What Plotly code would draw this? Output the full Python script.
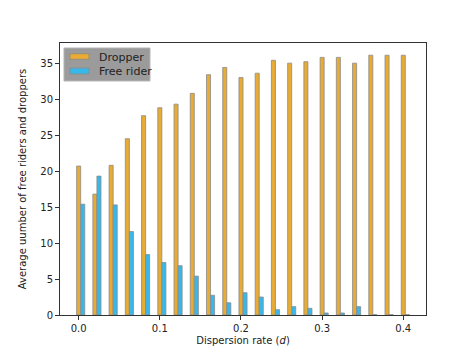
import plotly.graph_objects as go

dispersion = [0.00, 0.02, 0.04, 0.06, 0.08, 0.10, 0.12, 0.14, 0.16, 0.18, 0.20,
              0.22, 0.24, 0.26, 0.28, 0.30, 0.32, 0.34, 0.36, 0.38, 0.40]
dropper = [20.7, 16.8, 20.8, 24.5, 27.7, 28.8, 29.3, 30.8, 33.4, 34.4, 33.0,
           33.6, 35.4, 35.0, 35.2, 35.8, 35.8, 35.0, 36.1, 36.1, 36.1]
free_rider = [15.4, 19.3, 15.3, 11.6, 8.4, 7.3, 6.85, 5.4, 2.74, 1.7, 3.1,
              2.5, 0.74, 1.16, 0.93, 0.28, 0.28, 1.16, 0.05, 0.05, 0.05]
yticks = [0, 5, 10, 15, 20, 25, 30, 35]
xticks = [0.0, 0.1, 0.2, 0.3, 0.4]
series_names = ["Dropper", "Free rider"]
series_colors = ["#E8AB33", "#38B8EA"]
edge_color = "#8a8a8a"

font = "DejaVu Sans"
fs = 10
fig = go.Figure()
fig.add_trace(go.Bar(x=dispersion, y=dropper, name=series_names[0], width=0.005, offset=-0.0025,
                     marker=dict(color=series_colors[0], line=dict(color=edge_color, width=0.8))))
fig.add_trace(go.Bar(x=dispersion, y=free_rider, name=series_names[1], width=0.005, offset=0.0025,
                     marker=dict(color=series_colors[1], line=dict(color=edge_color, width=0.8))))

axis_common = dict(showline=True, linecolor="#333333", linewidth=1, mirror=True,
                   ticks="outside", ticklen=4, tickcolor="#333333", showgrid=False,
                   zeroline=False, automargin=False,
                   tickfont=dict(family=font, size=fs, color="#222222"))

# manual matplotlib-style legend (box, swatches, labels) in axis-domain coordinates
shapes = [dict(type="rect", xref="x domain", yref="y domain", x0=0.0109, x1=0.2459,
               y0=0.8603, y1=0.9816, fillcolor="#9b9b9b", line=dict(color="#b5b5b5", width=1))]
swatch_y = [(0.9401, 0.9607), (0.886, 0.908)]
label_y = [0.9485, 0.8934]
annotations = []
for i in range(2):
    shapes.append(dict(type="rect", xref="x domain", yref="y domain", x0=0.0273, x1=0.0792,
                       y0=swatch_y[i][0], y1=swatch_y[i][1], fillcolor=series_colors[i],
                       line=dict(color=edge_color, width=0.8)))
    annotations.append(dict(xref="x domain", yref="y domain", x=0.101, y=label_y[i],
                            text=series_names[i], showarrow=False, xanchor="left", yanchor="middle",
                            font=dict(family=font, size=11, color="#222222")))

# page body has an 8px margin, so the figure is sized to end at the window edge
fig.update_layout(
    width=466, height=347,
    margin=dict(l=52, r=48, t=35, b=40),
    paper_bgcolor="white", plot_bgcolor="white",
    barmode="overlay",
    font=dict(family=font, size=fs, color="#222222"),
    xaxis=dict(range=[-0.023, 0.428], tickvals=xticks, ticktext=["0.0", "0.1", "0.2", "0.3", "0.4"],
               title=dict(text="Dispersion rate (<i>d</i>)", font=dict(family=font, size=fs), standoff=3),
               **axis_common),
    yaxis=dict(range=[0, 37.8], tickvals=yticks,
               title=dict(text="Average uumber of free riders and droppers", font=dict(family=font, size=fs), standoff=11),
               **axis_common),
    shapes=shapes,
    annotations=annotations,
    showlegend=False,
)
fig.write_html("out.html")
